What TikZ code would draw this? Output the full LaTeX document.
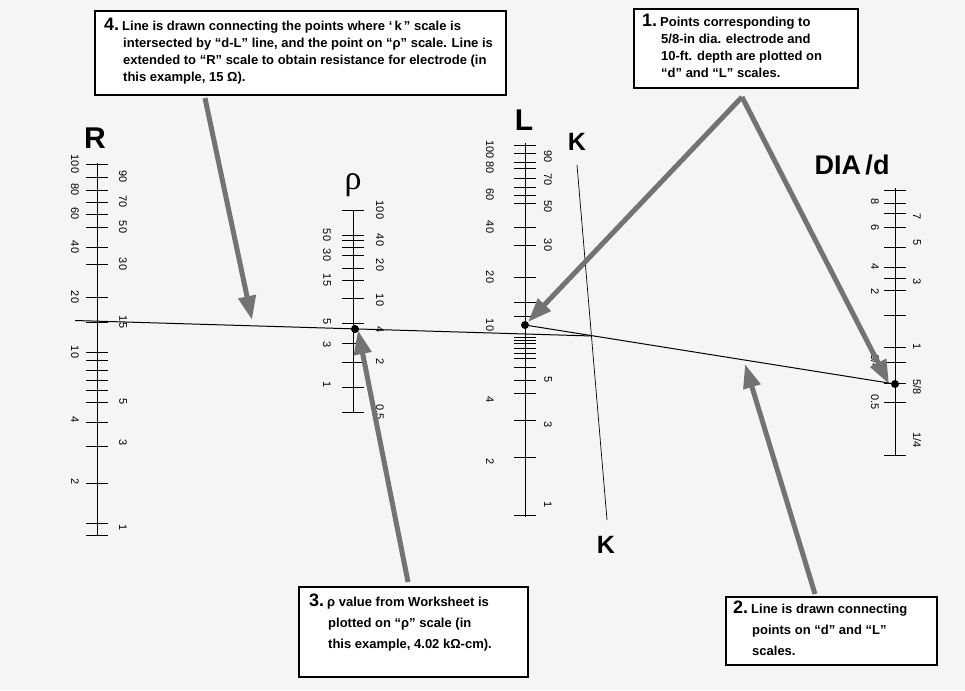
\documentclass[tikz,border=0pt]{standalone}
\usepackage{fontspec}
\setmainfont{Liberation Sans}
\newfontfamily\rhofont{Liberation Serif}
\usetikzlibrary{arrows.meta}
\begin{document}
\begin{tikzpicture}[x=1pt,y=-1pt,
  axis/.style={line width=1pt},
  tk/.style={line width=0.9pt},
  lab/.style={font=\fontsize{11}{11}\selectfont,rotate=-90,inner sep=0pt},
  big/.style={font=\bfseries\fontsize{30}{30}\selectfont,inner sep=0pt},
  box/.style={draw,line width=2pt,fill=white,align=left,anchor=north west,inner sep=0pt},
  btext/.style={anchor=north west,align=left,inner sep=0pt,font=\bfseries\fontsize{13}{17}\selectfont},
  garrow/.style={line width=5pt,draw=black!55,-{Triangle[length=24pt,width=17pt]}},
  dot/.style={circle,fill=black,inner sep=0pt,minimum size=8pt},
  thin/.style={line width=1pt}]
\useasboundingbox (0,0) rectangle (965,690);
\fill[white!96!black] (0,0) rectangle (965,690);
% R scale
\draw[axis] (97,163) -- (97,535);
\foreach \y in {164,177,190,202,214,227,247,264,297,322,352,360,370,380,390,402,422,446,483,523,535} \draw[tk] (86,\y) -- (108,\y);
\foreach \y/\t in {164/100,190/80,214/60,247/40,297/20,352/10,420/4,482/2} \node[lab] at (75,\y) {\t};
\foreach \y/\t in {177/90,202/70,227/50,264/30,322/15,402/5,443/3,528/1} \node[lab] at (123,\y) {\t};
\node[big] (R) at (95,138) {R};
% rho scale
\draw[axis] (353,210) -- (353,413);
\foreach \y in {210,235,240,247,255,268,280,298,323,343,362,387,412} \draw[tk] (342,\y) -- (364,\y);
\foreach \y/\t in {235/50,255/30,280/15,322/5,345/3,385/1} \node[lab] at (327,\y) {\t};
\foreach \y/\t in {210/100,240/40,265/20,300/10,330/4,362/2,412/0.5} \node[lab] at (380,\y) {\t};
\node[font=\rhofont\fontsize{34}{34}\selectfont,inner sep=0pt] (rho) at (353,185) {ρ};
% L scale
\draw[axis] (525,143) -- (525,517);
\foreach \y in {145,153,162,168,178,187,195,203,227,245,277,302,316,337,340,343,348,353,358,367,380,393,420,457,515} \draw[tk] (514,\y) -- (536,\y);
\foreach \y/\t in {157/100 80,195/60,227/40,277/20,325/10,400/4,462/2} \node[lab] at (490,\y) {\t};
\foreach \y/\t in {157/90,180/70,207/50,245/30,380/5,425/3,505/1} \node[lab] at (548,\y) {\t};
\node[big] (L) at (524,120) {L};
% K line
\coordinate (Ka) at (577,165);
\coordinate (Kb) at (607,520);
\draw[line width=0.7pt] (Ka) -- (Kb);
\node[font=\bfseries\fontsize{25}{25}\selectfont,inner sep=0pt] (K1) at (577,142) {K};
\node[font=\bfseries\fontsize{25}{25}\selectfont,inner sep=0pt] (K2) at (606,545) {K};
% d scale
\draw[axis] (895,188) -- (895,455);
\foreach \y in {190,203,213,227,247,267,278,290,315,347,362,383,402,455} \draw[tk] (884,\y) -- (906,\y);
\foreach \y/\t in {202/8,228/6,267/4,292/2,362/{3/4},402/0.5} \node[lab] at (875,\y) {\t};
\foreach \y/\t in {217/7,243/5,282/3,347/1,387/{5/8},440/{1/4}} \node[lab] at (917,\y) {\t};
\node[font=\bfseries\fontsize{27}{27}\selectfont,inner sep=0pt] (dia) at (852,165) {DIA\,/d};
% points and lines
\node[dot] (prho) at (355,329) {};
\node[dot] (pL) at (525,325) {};
\node[dot] (pd) at (895,384) {};
\coordinate (Rend) at (75,320.5);
\coordinate (Kx) at (592,336);
\draw[thin] (Rend) -- (Kx);
\draw[thin] (pL) -- (pd);
% boxes
\node[box,minimum width=411pt,minimum height=84pt] (b4) at (94,10) {};
\node[btext] at (104,18) {\fontsize{18}{17}\selectfont 4.\,\fontsize{13}{17}\selectfont Line is drawn connecting the points where `\,k\,'' scale is\\
\hspace*{19pt}intersected by ``d-L'' line, and the point on ``ρ'' scale. Line is\\
\hspace*{19pt}extended to ``R'' scale to obtain resistance for electrode (in\\
\hspace*{19pt}this example, 15 Ω).};
\node[box,minimum width=224pt,minimum height=79pt] (b1) at (633,8) {};
\node[btext] at (642,14) {\fontsize{18}{17}\selectfont 1.\,\fontsize{13}{17}\selectfont Points corresponding to\\
\hspace*{19pt}5/8-in dia. electrode and\\
\hspace*{19pt}10-ft. depth are plotted on\\
\hspace*{19pt}``d'' and ``L'' scales.};
\node[box,minimum width=229pt,minimum height=90pt] (b3) at (298,586) {};
\node[btext,font=\bfseries\fontsize{13}{21}\selectfont] at (309,594) {\fontsize{18}{21}\selectfont 3.\,\fontsize{13}{21}\selectfont ρ value from Worksheet is\\
\hspace*{19pt}plotted on ``ρ'' scale (in\\
\hspace*{19pt}this example, 4.02 kΩ-cm).};
\node[box,minimum width=211pt,minimum height=68pt] (b2) at (725,596) {};
\node[btext,font=\bfseries\fontsize{13}{21}\selectfont] at (733,601) {\fontsize{18}{21}\selectfont 2.\,\fontsize{13}{21}\selectfont Line is drawn connecting\\
\hspace*{19pt}points on ``d'' and ``L''\\
\hspace*{19pt}scales.};
% gray arrows
\coordinate (a4s) at (205,98);
\coordinate (a4e) at (252,320);
\draw[garrow] (a4s) -- (a4e);
\coordinate (apex) at (742,97);
\draw[garrow] (apex) -- (pL.north east);
\draw[garrow] (apex) -- ([xshift=-3pt,yshift=-3pt]pd.north west);
\coordinate (a3s) at (408,582);
\draw[garrow] (a3s) -- ([xshift=3pt,yshift=3pt]prho.south);
\coordinate (a2s) at (815,594);
\coordinate (a2e) at (745,364);
\draw[garrow] (a2s) -- (a2e);
\end{tikzpicture}
\end{document}
